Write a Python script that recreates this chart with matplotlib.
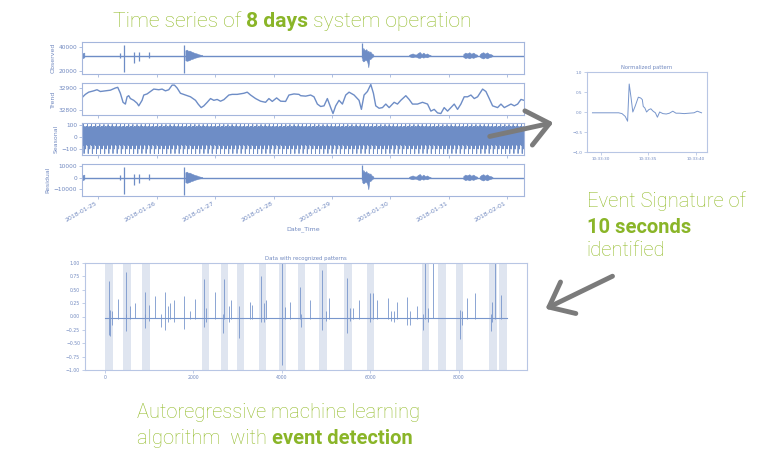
import numpy as np
import matplotlib
matplotlib.use('Agg')
import matplotlib.pyplot as plt
import matplotlib.dates as mdates
from matplotlib.patches import FancyArrowPatch
from datetime import datetime

# ---- decomposition data (days after 2018-01-25 00:00) ----
start_day, end_day = -0.28, 7.29

trend_day = [-0.28, -0.223, -0.166, -0.08, -0.023, 0.034, 0.12, 0.206, 0.292, 0.332, 0.377, 0.423,
             0.463, 0.492, 0.52, 0.549, 0.606, 0.663, 0.692, 0.749, 0.778, 0.835, 0.892, 0.949,
             1.035, 1.092, 1.149, 1.206, 1.263, 1.303, 1.349, 1.406, 1.492, 1.578, 1.664, 1.709,
             1.761, 1.807, 1.864, 1.921, 1.978, 2.035, 2.092, 2.15, 2.235, 2.292, 2.378, 2.492,
             2.55, 2.607, 2.693, 2.779, 2.864, 2.921, 2.979, 3.053, 3.122, 3.207, 3.264, 3.35,
             3.436, 3.465, 3.551, 3.636, 3.693, 3.751, 3.808, 3.865, 3.922, 3.979, 4.019, 4.065,
             4.122, 4.18, 4.237, 4.294, 4.38, 4.465, 4.505, 4.551, 4.608, 4.666, 4.711, 4.751,
             4.808, 4.866, 4.923, 4.98, 5.066, 5.123, 5.18, 5.266, 5.323, 5.38, 5.466, 5.552,
             5.638, 5.695, 5.752, 5.809, 5.866, 5.923, 5.981, 6.038, 6.095, 6.152, 6.209, 6.266,
             6.324, 6.381, 6.438, 6.495, 6.581, 6.638, 6.695, 6.752, 6.838, 6.895, 6.953, 7.01,
             7.067, 7.124, 7.181, 7.238, 7.29]
trend_val = [32856, 32871, 32881, 32887, 32892, 32884, 32887, 32890, 32900, 32903, 32876, 32835,
             32827, 32860, 32865, 32852, 32844, 32831, 32819, 32844, 32868, 32873, 32884, 32895,
             32892, 32895, 32887, 32892, 32913, 32913, 32900, 32876, 32868, 32860, 32844, 32827,
             32811, 32819, 32835, 32852, 32844, 32848, 32840, 32847, 32868, 32871, 32871, 32876,
             32881, 32868, 32852, 32840, 32835, 32852, 32839, 32855, 32840, 32839, 32868, 32873,
             32871, 32865, 32863, 32868, 32860, 32827, 32816, 32819, 32852, 32811, 32784, 32819,
             32844, 32827, 32868, 32881, 32868, 32844, 32803, 32868, 32884, 32916, 32876, 32819,
             32808, 32811, 32827, 32811, 32835, 32827, 32844, 32865, 32848, 32827, 32827, 32835,
             32827, 32795, 32803, 32787, 32784, 32811, 32795, 32811, 32827, 32803, 32827, 32860,
             32860, 32868, 32852, 32860, 32895, 32884, 32852, 32819, 32811, 32827, 32811, 32819,
             32827, 32819, 32827, 32848, 32844]

seasonal_cycle = [20, 90, -60, 85, -70, 105, -50, 80, -138, 60, -95, 88, -40, 84, -100, 75]
seasonal_cycles = 107

obs_base = 32860
spike_day = [0.366, 0.446, 0.606, 0.703, 0.863, 1.463, 4.523]
spike_hi = [2500, 8800, 2600, 2600, 3000, 8600, 10300]
spike_lo = [-2000, -14000, -6000, -5000, -2000, -14500, -2000]

bursts = [
    (-0.28, -0.24, [2500, 2000, 2500], [-2500, -2000, -1500]),
    (1.49, 1.78, [4500, 5000, 4000, 4200, 3500, 3000, 2500, 2000, 1800, 1200, 900, 600, 400],
     [-4000, -4500, -4200, -3800, -3000, -2800, -2200, -1800, -1500, -1000, -800, -500, -300]),
    (4.52, 4.71, [4000, 6500, 5000, 4500, 5500, 3500, 4000, 3000, 3500, 2000, 1500, 800],
     [-4000, -5000, -4500, -3500, -4000, -5500, -10000, -3000, -3000, -2000, -1200, -600]),
    (5.32, 5.69, [600, 1200, 1800, 1000, 900, 2200, 3000, 1200, 2500, 1000, 1800, 800, 400],
     [-500, -1100, -1500, -900, -1000, -1800, -2000, -1100, -1800, -1000, -1500, -700, -400]),
    (6.25, 6.49, [1200, 2500, 1800, 2800, 1500, 2500, 1200, 700],
     [-1200, -2200, -1600, -2400, -1500, -2000, -1200, -600]),
    (6.53, 6.75, [900, 2300, 2800, 1600, 2700, 1500, 1200, 500],
     [-900, -2000, -2500, -1500, -2400, -1600, -1100, -500]),
]

# ---- normalized pattern (seconds after 10:33:00) ----
pattern_sec = [29.13, 31.89, 32.24, 32.58, 32.83, 33.0, 33.2, 33.38, 33.62, 33.96, 34.21, 34.38,
               34.48, 34.65, 34.83, 35.07, 35.28, 35.52, 35.76, 35.97, 36.21, 36.55, 36.9, 37.24,
               37.59, 37.93, 38.28, 38.79, 39.31, 39.83, 40.17, 40.62]
pattern_val = [-0.02, -0.02, -0.04, -0.11, -0.23, 0.70, 0.35, 0.0, 0.14, 0.37, 0.35, 0.31,
               0.14, 0.10, 0.0, 0.06, 0.08, 0.02, -0.02, -0.13, 0.0, -0.04, -0.05, -0.03,
               0.02, -0.03, -0.03, -0.04, -0.03, -0.02, 0.02, -0.02]

# ---- recognized patterns data ----
n_points = 9094
base_level = -0.03
peak_x = [98, 121, 150, 287, 469, 484, 575, 688, 892, 907, 1000, 1119, 1270, 1345, 1420, 1480,
          1550, 1791, 1920, 2026, 2230, 2290, 2494, 2669, 2684, 2800, 2842, 3031, 3273, 3330,
          3538, 3600, 3650, 4006, 4074, 4195, 4422, 4445, 4634, 4913, 5000, 5063, 5480, 5540,
          5600, 5745, 5994, 6055, 6160, 6395, 6480, 6530, 6614, 6841, 6900, 7052, 7205, 7234,
          7300, 7430, 8036, 8080, 8186, 8375, 8741, 8753, 8814, 8958]
peak_hi = [0.67, 0.12, 0.10, 0.33, 0.05, 0.84, 0.19, 0.25, 0.05, 0.46, 0.22, 0.39, 0.05, 0.45,
           0.20, 0.25, 0.31, 0.39, 0.10, 0.33, 0.71, 0.15, 0.45, 0.05, 0.70, 0.20, 0.31, 0.20,
           0.28, 0.22, 0.75, 0.25, 0.31, 1.0, 0.17, 0.28, 0.56, 0.05, 0.31, 0.86, 0.10, 0.34,
           0.72, 0.16, 0.16, 0.30, 0.44, 0.43, 0.31, 0.34, 0.10, 0.10, 0.28, 0.37, 0.10, 0.19,
           0.05, 1.0, 0.16, 1.0, 0.12, 0.10, 0.34, 0.44, 0.05, 0.28, 1.0, 0.41]
peak_lo = [-0.34, -0.37, -0.15, -0.05, -0.28, -0.05, -0.05, -0.02, -0.22, -0.05, -0.08, -0.03,
           -0.20, -0.25, -0.10, -0.05, -0.10, -0.24, -0.05, -0.05, -0.20, -0.10, -0.04, -0.30,
           -0.05, -0.10, -0.05, -0.40, -0.05, -0.05, -0.10, -0.10, -0.05, -0.90, -0.05, -0.05,
           -0.05, -0.20, -0.05, -0.25, -0.08, -0.05, -0.30, -0.08, -0.05, -0.05, -0.10, -0.05,
           -0.05, -0.05, -0.08, -0.10, -0.05, -0.15, -0.15, -0.05, -0.25, -0.05, -0.10, -0.02,
           -0.42, -0.15, -0.05, -0.05, -0.28, -0.10, -0.05, -0.05]
span_start = [0, 415, 838, 2184, 2614, 2977, 3476, 3937, 4361, 4844, 5411, 5925, 7172, 7542,
              7937, 8699, 8919]
span_len = 168

LINE = '#6e8dc6'
LINE2 = '#7896cc'
SPINE = '#a4b6dc'
TXT = '#7189c0'
GREEN = '#94bc2c'
GREEN_B = '#8ab528'
W, H = 768, 465

fig = plt.figure(figsize=(W / 100, H / 100), dpi=100)


def box(l, t, r, b):
    return [l / W, 1 - b / H, (r - l) / W, (b - t) / H]


def style(ax, size, spine=SPINE):
    for s in ax.spines.values():
        s.set_color(spine)
        s.set_linewidth(0.8)
    ax.tick_params(colors=spine, labelcolor=TXT, labelsize=size, length=2, width=0.6, pad=1.5)


day0 = mdates.date2num(datetime(2018, 1, 25))
names = ['Observed', 'Trend', 'Seasonal', 'Residual']
rows = [(42, 74), (83, 115), (123, 155), (164, 196)]
axes = []
for name, (t, b) in zip(names, rows):
    ax = fig.add_axes(box(82, t, 524, b))
    style(ax, 4.2)
    ax.set_ylabel(name, fontsize=4.5, color=TXT, labelpad=2)
    axes.append(ax)

# observed + residual
for ax, off in [(axes[0], obs_base), (axes[3], 0)]:
    ax.plot([day0 + start_day, day0 + end_day], [off, off], color=LINE, lw=1.0)
    ax.vlines(day0 + np.array(spike_day), off + np.array(spike_lo), off + np.array(spike_hi),
              color=LINE, lw=0.9)
    for b0, b1, hi, lo in bursts:
        tt = day0 + np.linspace(b0, b1, len(hi))
        ax.fill_between(tt, off + np.array(lo), off + np.array(hi), color=LINE, lw=0.4)
axes[0].set_yticks([20000, 40000])
axes[3].set_yticks([-10000, 0, 10000])

axes[1].plot(day0 + np.array(trend_day), trend_val, color=LINE, lw=1.0)
axes[1].set_yticks([32800, 32900])

seas = np.tile(seasonal_cycle, seasonal_cycles)
axes[2].plot(day0 + np.linspace(start_day, end_day, len(seas)), seas, color=LINE, lw=0.6)
axes[2].set_yticks([-100, 0, 100])

for ax in axes:
    ax.set_xlim(day0 + start_day, day0 + end_day)
    ax.xaxis.set_major_locator(mdates.DayLocator())
    ax.xaxis.set_major_formatter(mdates.DateFormatter('%Y-%m-%d'))
for ax in axes[:3]:
    ax.tick_params(labelbottom=False)
plt.setp(axes[3].get_xticklabels(), rotation=30, ha='right', fontsize=4.5)
axes[3].set_xlabel('Date_Time', fontsize=4.5, color=TXT, labelpad=2)

# normalized pattern
axp = fig.add_axes(box(587, 72, 707, 152))
style(axp, 3.0, '#b8c6e4')
t0 = mdates.date2num(datetime(2018, 1, 29, 10, 33, 0))
axp.plot(t0 + np.array(pattern_sec) / 86400, pattern_val, color=LINE2, lw=0.7)
axp.set_ylim(-1, 1)
axp.set_yticks([-1, -0.5, 0, 0.5, 1])
axp.xaxis.set_major_locator(mdates.SecondLocator(bysecond=[30, 35, 40]))
axp.xaxis.set_major_formatter(mdates.DateFormatter('%H:%M:%S'))
axp.set_title('Normalized pattern', fontsize=3.8, color=TXT, pad=2)

# recognized patterns
axr = fig.add_axes(box(85, 263, 527, 370))
style(axr, 3.3, '#b8c6e4')
for s in span_start:
    axr.axvspan(s, s + span_len, color='#dfe5f0', lw=0)
axr.plot([0, n_points - 1], [base_level, base_level], color=LINE2, lw=0.8)
axr.vlines(peak_x, peak_lo, peak_hi, color=LINE2, lw=0.6)
axr.set_xlim(-0.05 * n_points, 1.05 * n_points)
axr.set_ylim(-1, 1)
axr.set_yticks(np.arange(-1, 1.01, 0.25))
axr.set_xticks([0, 2000, 4000, 6000, 8000])
axr.set_title('Data with recognized patterns', fontsize=3.9, color=TXT, pad=2)

# green annotations
renderer = fig.canvas.get_renderer()


def width(s, size, weight):
    t = fig.text(0, 0, s, fontsize=size, fontweight=weight, family='Roboto')
    w = t.get_window_extent(renderer).width
    t.remove()
    return w


def rich(x, y, parts, size):
    sp = width('a a', size, 'light') - width('aa', size, 'light')
    for s, bold in parts:
        weight = 'bold' if bold else 'light'
        t = fig.text(x / W, 1 - y / H, s, fontsize=size, fontweight=weight, family='Roboto',
                     color=GREEN_B if bold else GREEN, va='baseline', ha='left')
        x += t.get_window_extent(renderer).width + sp


rich(113, 27, [('Time series of', False), ('8 days', True), ('system operation', False)], 15.2)
rich(587, 207, [('Event Signature of', False)], 14.5)
rich(587, 233, [('10 seconds', True)], 14.5)
rich(587, 256, [('identified', False)], 14.5)
rich(137, 418, [('Autoregressive machine learning', False)], 14.5)
rich(137, 444, [('algorithm  with', False), ('event detection', True)], 14.5)

for a, b in [((487, 137), (556, 122)), ((615, 275), (543, 310))]:
    arr = FancyArrowPatch((a[0] / W, 1 - a[1] / H), (b[0] / W, 1 - b[1] / H),
                          transform=fig.transFigure, arrowstyle='->,head_length=0.55,head_width=0.45',
                          mutation_scale=28, lw=3.5, color='#7b7b7b')
    fig.add_artist(arr)

fig.savefig('out.png', dpi=100, facecolor='white')
